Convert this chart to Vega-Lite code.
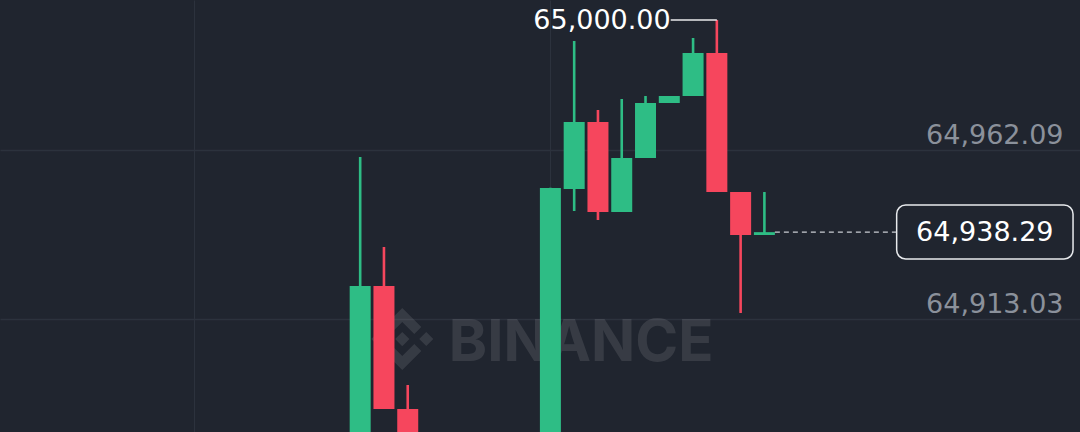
{
  "$schema": "https://vega.github.io/schema/vega-lite/v6.json",
  "width": 1080,
  "height": 432,
  "autosize": {"type": "none"},
  "padding": 0,
  "config": {"background": "#20252f", "view": {"stroke": null}},
  "datasets": {
    "candles": [
      {"t": 0, "open": 64870.0, "high": 64960.14, "low": 64860.0, "close": 64922.63},
      {"t": 1, "open": 64922.63, "high": 64933.97, "low": 64886.86, "close": 64886.86},
      {"t": 2, "open": 64886.86, "high": 64893.84, "low": 64860.0, "close": 64872.0},
      {"t": 8, "open": 64870.0, "high": 64951.2, "low": 64860.0, "close": 64951.13},
      {"t": 9, "open": 64950.84, "high": 64993.88, "low": 64944.44, "close": 64970.32},
      {"t": 10, "open": 64970.32, "high": 64973.81, "low": 64941.82, "close": 64944.15},
      {"t": 11, "open": 64944.15, "high": 64977.01, "low": 64944.15, "close": 64959.85},
      {"t": 12, "open": 64959.85, "high": 64977.88, "low": 64959.85, "close": 64975.85},
      {"t": 13, "open": 64975.85, "high": 64977.88, "low": 64975.85, "close": 64977.88},
      {"t": 14, "open": 64977.88, "high": 64994.75, "low": 64977.88, "close": 64990.39},
      {"t": 15, "open": 64990.39, "high": 65000.0, "low": 64949.96, "close": 64949.96},
      {"t": 16, "open": 64949.96, "high": 64949.96, "low": 64914.78, "close": 64937.46},
      {"t": 17, "open": 64937.46, "high": 64949.96, "low": 64937.46, "close": 64938.29}
    ]
  },
  "layer": [
    {
      "data": {"values": [{"t": 1.77, "p": 64907.21}]},
      "mark": {
        "type": "point",
        "shape": "M-0.388,-0.16L0,-0.548L0.388,-0.16L0.614,-0.386L0,-1L-0.614,-0.386ZM-0.388,0.16L0,0.548L0.388,0.16L0.614,0.386L0,1L-0.614,0.386ZM-1,0L-0.774,-0.226L-0.548,0L-0.774,0.226ZM1,0L0.774,-0.226L0.548,0L0.774,0.226ZM0.23,0L0,-0.23L-0.23,0L0,0.23Z",
        "size": 3844,
        "filled": true,
        "fill": "#ffffff",
        "fillOpacity": 0.1,
        "strokeWidth": 0
      },
      "encoding": {
        "x": {"field": "t", "type": "quantitative", "scale": {"domain": [-14.9375, 30.0625], "nice": false, "zero": false},
          "axis": {"values": [-7, 8], "grid": true, "gridColor": "#2c323d", "gridWidth": 1, "labels": false, "ticks": false, "domain": false, "title": null}},
        "y": {"field": "p", "type": "quantitative", "scale": {"domain": [64880.17, 65005.8], "nice": false, "zero": false},
          "axis": {"orient": "right", "values": [64913.03, 64962.09], "format": ",.2f", "grid": true, "gridColor": "#2c323d", "gridWidth": 1.5,
            "domain": false, "ticks": false, "labelAlign": "right", "labelPadding": -17, "labelOffset": -7, "labelBaseline": "alphabetic",
            "labelFontSize": 27, "labelFont": "DejaVu Sans", "labelColor": "#8b919b", "labelOverlap": false, "labelFlush": false, "title": null}}
      }
    },
    {
      "data": {"values": [{"t": 3.73, "p": 64900.82, "label": "BINANCE"}]},
      "mark": {"type": "text", "align": "left", "baseline": "alphabetic", "font": "Inter", "fontWeight": "bold", "fontSize": 58, "fill": "#ffffff", "opacity": 0.1},
      "encoding": {
        "x": {"field": "t", "type": "quantitative", "scale": {"domain": [-14.9375, 30.0625], "nice": false, "zero": false}},
        "y": {"field": "p", "type": "quantitative", "scale": {"domain": [64880.17, 65005.8], "nice": false, "zero": false}},
        "text": {"field": "label"}
      }
    },
    {
      "data": {"name": "candles"},
      "mark": {"type": "rule", "strokeWidth": 2.6, "clip": true},
      "encoding": {
        "x": {"field": "t", "type": "quantitative", "scale": {"domain": [-14.9375, 30.0625], "nice": false, "zero": false}},
        "y": {"field": "low", "type": "quantitative", "scale": {"domain": [64880.17, 65005.8], "nice": false, "zero": false}},
        "y2": {"field": "high"},
        "color": {"condition": {"test": "datum.close >= datum.open", "value": "#2ebd85"}, "value": "#f6465d"}
      }
    },
    {
      "data": {"name": "candles"},
      "mark": {"type": "bar", "size": 21, "clip": true},
      "encoding": {
        "x": {"field": "t", "type": "quantitative", "scale": {"domain": [-14.9375, 30.0625], "nice": false, "zero": false}},
        "y": {"field": "open", "type": "quantitative", "scale": {"domain": [64880.17, 65005.8], "nice": false, "zero": false}},
        "y2": {"field": "close"},
        "color": {"condition": {"test": "datum.close >= datum.open", "value": "#2ebd85"}, "value": "#f6465d"}
      }
    },
    {
      "data": {"values": [{"t0": 17.44, "t1": 22.5625, "p": 64938.29}]},
      "mark": {"type": "rule", "stroke": "#c9cdd3", "strokeWidth": 1.2, "strokeDash": [5, 4]},
      "encoding": {
        "x": {"field": "t0", "type": "quantitative", "scale": {"domain": [-14.9375, 30.0625], "nice": false, "zero": false}},
        "x2": {"field": "t1"},
        "y": {"field": "p", "type": "quantitative", "scale": {"domain": [64880.17, 65005.8], "nice": false, "zero": false}}
      }
    },
    {
      "data": {"values": [{"t0": 22.5625, "t1": 29.98, "p0": 64946.18, "p1": 64930.48}]},
      "mark": {"type": "rect", "fill": "#20252f", "stroke": "#e8eaed", "strokeWidth": 1.5, "cornerRadius": 9},
      "encoding": {
        "x": {"field": "t0", "type": "quantitative", "scale": {"domain": [-14.9375, 30.0625], "nice": false, "zero": false}},
        "x2": {"field": "t1"},
        "y": {"field": "p0", "type": "quantitative", "scale": {"domain": [64880.17, 65005.8], "nice": false, "zero": false}},
        "y2": {"field": "p1"}
      }
    },
    {
      "data": {"values": [{"t": 26.27, "p": 64938.29}]},
      "mark": {"type": "text", "align": "center", "baseline": "middle", "font": "DejaVu Sans", "fontSize": 27, "fill": "#ffffff", "dy": 1},
      "encoding": {
        "x": {"field": "t", "type": "quantitative", "scale": {"domain": [-14.9375, 30.0625], "nice": false, "zero": false}},
        "y": {"field": "p", "type": "quantitative", "scale": {"domain": [64880.17, 65005.8], "nice": false, "zero": false}},
        "text": {"field": "p", "format": ",.2f"}
      }
    },
    {
      "data": {"values": [{"t0": 13.06, "t1": 15, "p": 65000.0}]},
      "mark": {"type": "rule", "stroke": "#e8eaed", "strokeWidth": 1.5},
      "encoding": {
        "x": {"field": "t0", "type": "quantitative", "scale": {"domain": [-14.9375, 30.0625], "nice": false, "zero": false}},
        "x2": {"field": "t1"},
        "y": {"field": "p", "type": "quantitative", "scale": {"domain": [64880.17, 65005.8], "nice": false, "zero": false}}
      }
    },
    {
      "data": {"values": [{"t": 13.06, "p": 65000.0}]},
      "mark": {"type": "text", "align": "right", "baseline": "middle", "font": "DejaVu Sans", "fontSize": 27, "fill": "#ffffff", "dy": 1},
      "encoding": {
        "x": {"field": "t", "type": "quantitative", "scale": {"domain": [-14.9375, 30.0625], "nice": false, "zero": false}},
        "y": {"field": "p", "type": "quantitative", "scale": {"domain": [64880.17, 65005.8], "nice": false, "zero": false}},
        "text": {"field": "p", "format": ",.2f"}
      }
    }
  ]
}
